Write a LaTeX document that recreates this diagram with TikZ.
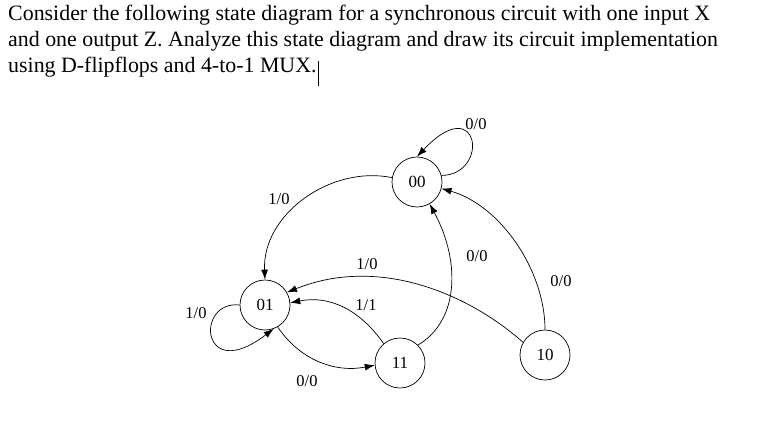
\documentclass[tikz,border=0pt]{standalone}
\usepackage{fontspec}
\setmainfont{Liberation Serif}
\usetikzlibrary{arrows.meta}
\begin{document}
\begin{tikzpicture}[x=1pt,y=-1pt,
  st/.style={draw,circle,minimum size=50pt,inner sep=0pt,line width=0.7pt,font=\fontsize{17}{17}\selectfont},
  lbl/.style={font=\fontsize{16.5}{16.5}\selectfont,inner sep=1pt},
  txt/.style={anchor=base west,inner sep=0pt,font=\fontsize{21.9}{26}\selectfont},
  tr/.style={-{Latex[length=10pt,width=7pt]},line width=0.7pt}]
\useasboundingbox (0,0) rectangle (758,434);
\node[txt] (l1) at (8,20) {Consider the following state diagram for a synchronous circuit with one input X};
\node[txt] (l2) at (8,46) {and one output Z. Analyze this state diagram and draw its circuit implementation};
\node[txt] (l3) at (8,72) {using D-flipflops and 4-to-1 MUX.};
\coordinate (c1) at ([xshift=2pt,yshift=11pt]l3.base east);
\coordinate (c2) at ([xshift=2pt,yshift=-14pt]l3.base east);
\draw[line width=0.8pt] (c1) -- (c2);
\node[st] (s00) at (417,182) {00};
\node[st] (s01) at (265,305) {01};
\node[st] (s11) at (400,363) {11};
\node[st] (s10) at (545,355) {10};
% self loops
\draw[tr] (s00.15) .. controls (490,175) and (480,90) .. (s00.north);
\node[lbl] (a) at (476,124) {0/0};
\draw[tr] (s01.west) .. controls (195,300) and (200,385) .. (s01.-70);
\node[lbl] (b) at (196,313) {1/0};
% 00 -> 01
\draw[tr] (s00.170) .. controls (330,165) and (262,215) .. (s01.north);
\node[lbl] (c) at (279,199) {1/0};
% 10 -> 00
\draw[tr] (s10.north) .. controls (545,270) and (500,205) .. (s00.-15);
\node[lbl] (d) at (561,281) {0/0};
% 11 -> 00
\draw[tr] (s11.45) .. controls (460,320) and (460,260) .. (s00.-60);
\node[lbl] (e) at (477,256) {0/0};
% 10 -> 01
\draw[tr] (s10.150) .. controls (470,295) and (380,255) .. (s01.30);
\node[lbl] (f) at (367,264) {1/0};
% 11 -> 01
\draw[tr] (s11.130) .. controls (360,310) and (330,295) .. (s01.5);
\node[lbl] (g) at (366,305) {1/1};
% 01 -> 11
\draw[tr] (s01.-60) .. controls (300,360) and (335,373) .. (s11.185);
\node[lbl] (h) at (307,381) {0/0};
\end{tikzpicture}
\end{document}
